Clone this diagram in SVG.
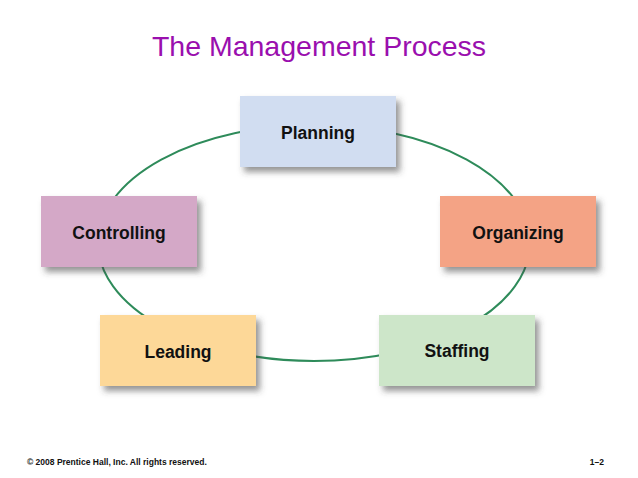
<svg xmlns="http://www.w3.org/2000/svg" width="638" height="478" viewBox="0 0 638 478">
<defs>
<filter id="sh" x="-10%" y="-10%" width="125%" height="135%">
<feDropShadow dx="4" dy="5" stdDeviation="3" flood-color="#404040" flood-opacity="0.55"/>
</filter>
<style>
.box{filter:url(#sh);}
.lbl{font-family:"Liberation Sans",Arial,sans-serif;font-weight:bold;font-size:17.5px;fill:#111;text-anchor:middle;}
.title{font-family:"Liberation Sans",Arial,sans-serif;font-size:28.5px;fill:#9a0fae;text-anchor:middle;}
.foot{font-family:"Liberation Sans",Arial,sans-serif;font-weight:bold;font-size:8.5px;fill:#111;}
.conn{fill:none;stroke:#2e8b5a;stroke-width:2;}
</style>
</defs>
<rect width="638" height="478" fill="#ffffff"/>
<text class="title" x="319" y="56">The Management Process</text>
<g id="connectors">
<ellipse class="conn" cx="314" cy="243" rx="216" ry="118"/>
</g>
<g id="planning">
<rect class="box" x="240" y="96" width="156" height="71" fill="#d1ddf1"/>
<text class="lbl" x="318" y="139">Planning</text>
</g>
<g id="controlling">
<rect class="box" x="41" y="196" width="156" height="71" fill="#d4a8c7"/>
<text class="lbl" x="119" y="239">Controlling</text>
</g>
<g id="organizing">
<rect class="box" x="440" y="196" width="156" height="71" fill="#f4a385"/>
<text class="lbl" x="518" y="239">Organizing</text>
</g>
<g id="leading">
<rect class="box" x="100" y="315" width="156" height="71" fill="#fdd898"/>
<text class="lbl" x="178" y="358">Leading</text>
</g>
<g id="staffing">
<rect class="box" x="379" y="315" width="156" height="71" fill="#cde6c9"/>
<text class="lbl" x="457" y="357">Staffing</text>
</g>
<text class="foot" x="27" y="465">© 2008 Prentice Hall, Inc. All rights reserved.</text>
<text class="foot" x="604" y="465" text-anchor="end">1–2</text>
</svg>
